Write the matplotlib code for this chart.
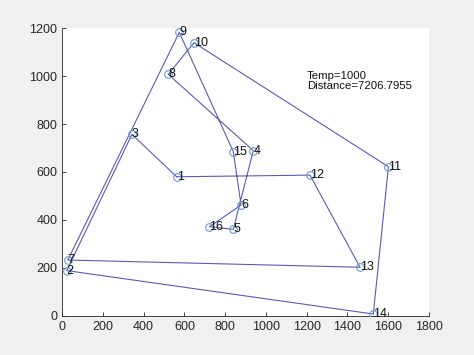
import matplotlib
matplotlib.use("Agg")
import matplotlib.pyplot as plt

# City coordinates
city_ids = [1, 2, 3, 4, 5, 6, 7, 8, 9, 10, 11, 12, 13, 14, 15, 16]
city_x = [562, 23, 343, 938, 840, 878, 28, 521, 575, 647, 1601, 1216, 1462, 1527, 840, 723]
city_y = [580, 189, 757, 689, 361, 462, 233, 1007, 1182, 1139, 622, 587, 203, 8, 685, 372]

# Tour order (closed loop)
route = [1, 3, 2, 14, 11, 10, 8, 4, 5, 16, 6, 15, 9, 7, 13, 12, 1]

temp_value = 1000
distance_value = 7206.7955

x_ticks = [0, 200, 400, 600, 800, 1000, 1200, 1400, 1600, 1800]
y_ticks = [0, 200, 400, 600, 800, 1000, 1200]

plt.rcParams['font.family'] = ['Liberation Sans', 'DejaVu Sans']

fig = plt.figure(figsize=(4.74, 3.55), dpi=100, facecolor='#f0f0f0')
ax = fig.add_axes([0.131, 0.110, 0.774, 0.811])
ax.set_facecolor('white')

rx = [city_x[c - 1] for c in route]
ry = [city_y[c - 1] for c in route]
ax.plot(rx, ry, '-', color='#5a5ab8', linewidth=0.8, zorder=2)
ax.plot(city_x, city_y, 'o', markerfacecolor='none', markeredgecolor='#6a9ad0',
        markersize=5.5, markeredgewidth=0.8, zorder=3)

for cid, cx, cy in zip(city_ids, city_x, city_y):
    ax.text(cx, cy, str(cid), fontsize=9, ha='left', va='center', color='#111111', zorder=4)

ax.text(1200, 980, f"Temp={temp_value}\nDistance={distance_value:.4f}",
        fontsize=8.2, ha='left', va='center', color='#111111', linespacing=1.0)

ax.set_xlim(0, 1800)
ax.set_ylim(0, 1200)
ax.set_xticks(x_ticks)
ax.set_yticks(y_ticks)
ax.spines['top'].set_visible(False)
ax.spines['right'].set_visible(False)
for s in ['left', 'bottom']:
    ax.spines[s].set_color('#262626')
    ax.spines[s].set_linewidth(0.6)
ax.tick_params(direction='in', length=3, width=0.6, labelsize=9, colors='#262626')

fig.savefig('out.png', dpi=100, facecolor=fig.get_facecolor())
